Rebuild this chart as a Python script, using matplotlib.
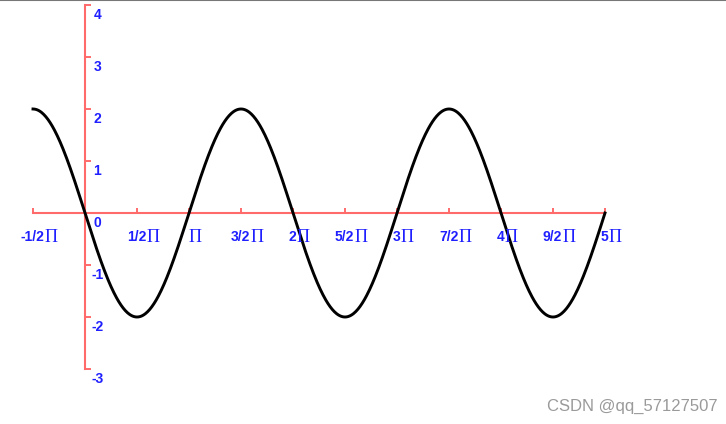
import numpy as np
import matplotlib
matplotlib.use("Agg")
import matplotlib.pyplot as plt
from matplotlib.markers import TICKUP, TICKRIGHT
from matplotlib.transforms import offset_copy

# ── data ──
X_START, X_END = -np.pi / 2, 5 * np.pi
AMPLITUDE = -2.0
x_ticks = np.arange(-1, 11) * np.pi / 2
x_labels = ["-1/2", "", "1/2", "", "3/2", "2", "5/2", "3", "7/2", "4", "9/2", "5"]
PI_SIGN = "\u03a0"
y_ticks = [4, 3, 2, 1, 0, -1, -2, -3]
y_labels = ["4", "3", "2", "1", "0", "-1", "-2", "-3"]

AXIS_COLOR = "#ff6b6b"
TEXT_COLOR = "#1f1fff"
DPI = 100

fig = plt.figure(figsize=(7.26, 4.24), dpi=DPI)
ax = fig.add_axes([0, 0, 1, 1])
ax.axis("off")

# pixel mapping: 52 px per pi/2 horizontally, 52 px per unit vertically
unit = np.pi / 2 / 52
ax.set_xlim(-85 * unit, (726 - 85) * unit)
ax.set_ylim((213 - 424) / 52, 213 / 52)

# top border line of the screenshot
fig.add_artist(plt.Line2D([0, 1], [0.999, 0.999], color="#777777", lw=1.5))

# axes
ax.plot([x_ticks[0], x_ticks[-1]], [0, 0], color=AXIS_COLOR, lw=1.5, zorder=1)
ax.plot([0, 0], [y_ticks[-1], y_ticks[0]], color=AXIS_COLOR, lw=1.5, zorder=1)
ax.plot(x_ticks, np.zeros(len(x_ticks)), ls="none", marker=TICKUP,
        ms=3.5, mew=1.4, color=AXIS_COLOR, zorder=1)
ax.plot(np.zeros(len(y_ticks)), y_ticks, ls="none", marker=TICKRIGHT,
        ms=4, mew=1.4, color=AXIS_COLOR, zorder=1)

# curve
x = np.linspace(X_START, X_END, 800)
ax.plot(x, AMPLITUDE * np.sin(x), color="black", lw=2.1, zorder=3)

# x labels: bold number part + thin serif pi, whole label centred near the tick
fig.canvas.draw()
renderer = fig.canvas.get_renderer()
num_kw = dict(color=TEXT_COLOR, fontsize=10, family="Liberation Sans", weight="bold")
pi_kw = dict(color=TEXT_COLOR, fontsize=13, family="Liberation Serif")
for xt, lab in zip(x_ticks, x_labels):
    if xt == 0:
        continue
    t_pi = ax.text(xt, 0, PI_SIGN, ha="left", va="center", **pi_kw)
    w_pi = t_pi.get_window_extent(renderer).width
    w_num = 0.0
    if lab:
        t_num = ax.text(xt, 0, lab, ha="right", va="center", **num_kw)
        w_num = t_num.get_window_extent(renderer).width
    dx = (6 + (w_num - w_pi) / 2) * 72 / DPI
    tr = offset_copy(ax.transData, fig=fig, x=dx, y=-17, units="points")
    t_pi.set_transform(offset_copy(ax.transData, fig=fig, x=dx, y=-17.5, units="points"))
    if lab:
        t_num.set_transform(tr)

# y labels
for yt, lab in zip(y_ticks, y_labels):
    ax.annotate(lab, (0, yt), xytext=(9, -7), textcoords="offset points",
                ha="center", va="center", **num_kw)

fig.text(0.988, 0.0425, "CSDN @qq_57127507", ha="right", va="center",
         color="#9a9a9a", fontsize=12, family="Liberation Sans")

fig.savefig("out.png", dpi=DPI)
